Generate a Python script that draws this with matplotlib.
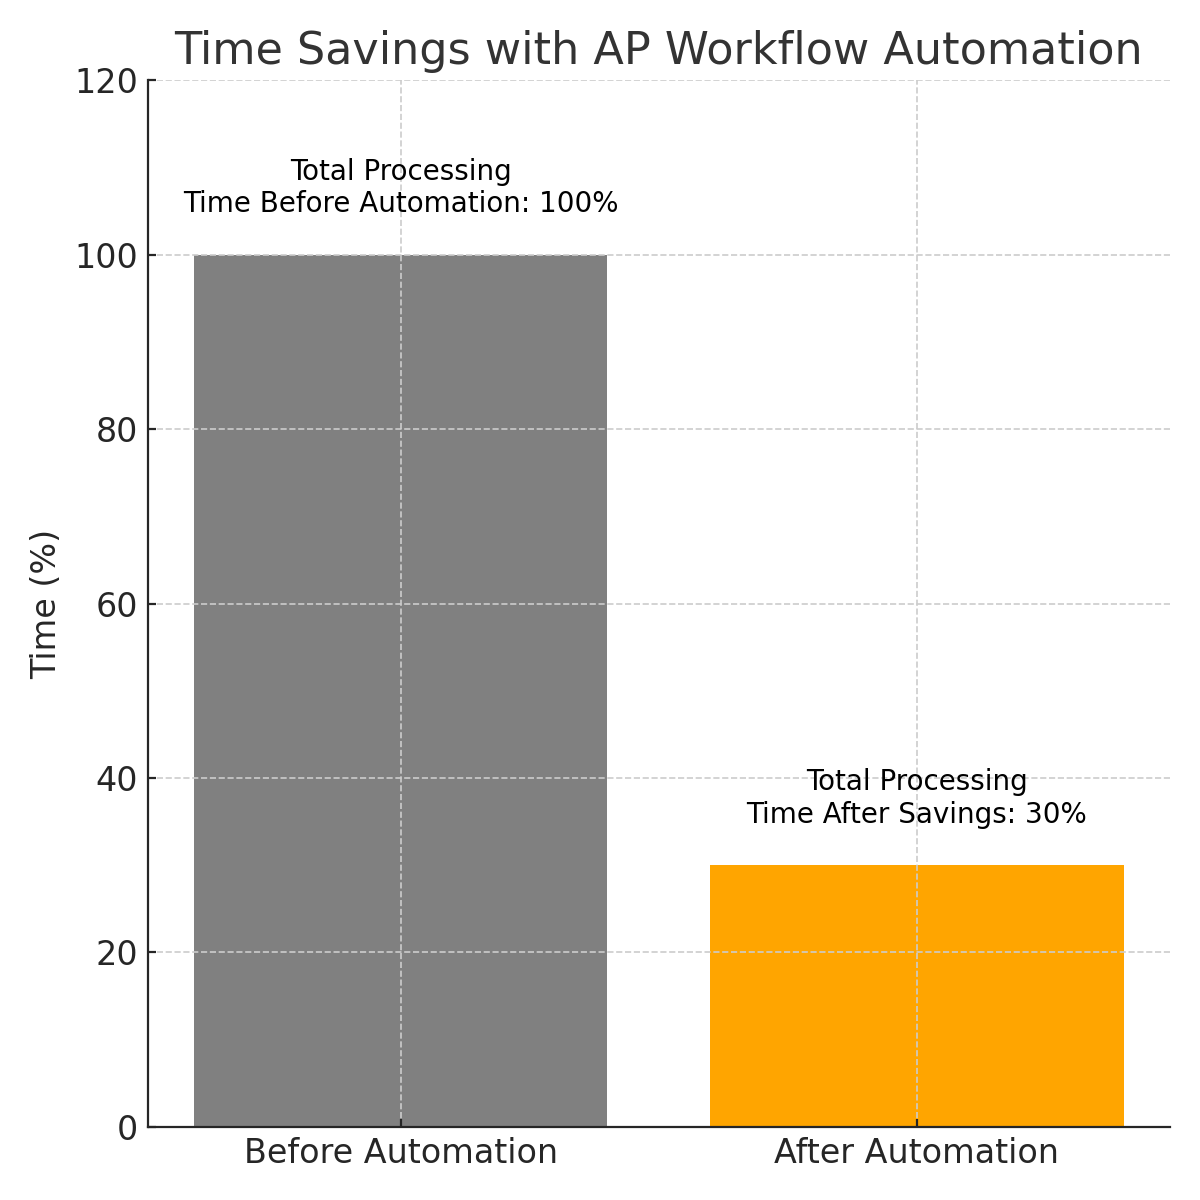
import matplotlib.pyplot as plt

# data
categories = ["Before Automation", "After Automation"]
time_pct = [100, 30]
bar_colors = ["gray", "orange"]
notes = ["Total Processing\nTime Before Automation: 100%",
         "Total Processing\nTime After Savings: 30%"]

fig, ax = plt.subplots(figsize=(6, 6), dpi=200)
fig.subplots_adjust(left=0.123, right=0.975, top=0.933, bottom=0.061)

ax.bar(categories, time_pct, color=bar_colors, width=0.8, zorder=1)

for i, (v, s) in enumerate(zip(time_pct, notes)):
    ax.text(i, v + 4.2, s, ha='center', va='bottom', fontsize=10, color='black')

ax.set_ylim(0, 120)
ax.set_ylabel("Time (%)", fontsize=12, color='#262626')
ax.set_title("Time Savings with AP Workflow Automation", fontsize=16, color='#333333')
ax.tick_params(axis='both', labelsize=12, colors='#262626', direction='in', length=3)
# grid sits on top of the bars in the original
ax.set_axisbelow(False)
ax.grid(True, linestyle='--', color='#cccccc', linewidth=0.6, zorder=2)
ax.spines['top'].set_visible(False)
ax.spines['right'].set_visible(False)
for sp in ('left', 'bottom'):
    ax.spines[sp].set_color('#262626')
    ax.spines[sp].set_zorder(3)

fig.savefig("out.png")
